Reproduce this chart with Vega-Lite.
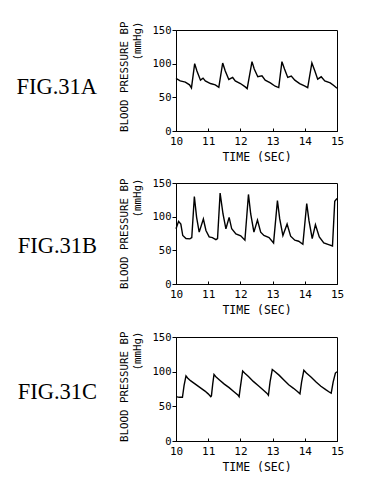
{
  "$schema": "https://vega.github.io/schema/vega-lite/v6.json",
  "background": "white",
  "padding": {"left": 15, "top": 20, "right": 5, "bottom": 5},
  "spacing": 14,
  "datasets": {
    "a": [
      {"t": 10.00, "bp": 78}, {"t": 10.13, "bp": 74.5}, {"t": 10.29, "bp": 72.5}, {"t": 10.42, "bp": 68.5}, {"t": 10.48, "bp": 64},
      {"t": 10.58, "bp": 100}, {"t": 10.65, "bp": 89}, {"t": 10.76, "bp": 75.5}, {"t": 10.84, "bp": 78.5}, {"t": 10.91, "bp": 74.5},
      {"t": 11.07, "bp": 70.5}, {"t": 11.22, "bp": 68.5}, {"t": 11.33, "bp": 65}, {"t": 11.45, "bp": 101}, {"t": 11.53, "bp": 89},
      {"t": 11.64, "bp": 76.5}, {"t": 11.76, "bp": 79.5}, {"t": 11.84, "bp": 74.5}, {"t": 12.00, "bp": 70.5}, {"t": 12.15, "bp": 65.5},
      {"t": 12.21, "bp": 63}, {"t": 12.36, "bp": 103}, {"t": 12.43, "bp": 92}, {"t": 12.54, "bp": 80.5}, {"t": 12.67, "bp": 82},
      {"t": 12.77, "bp": 75.5}, {"t": 12.93, "bp": 71.5}, {"t": 13.08, "bp": 66.5}, {"t": 13.19, "bp": 64.5}, {"t": 13.29, "bp": 103},
      {"t": 13.37, "bp": 92}, {"t": 13.47, "bp": 79.5}, {"t": 13.58, "bp": 81.5}, {"t": 13.69, "bp": 75.5}, {"t": 13.84, "bp": 70.5},
      {"t": 13.99, "bp": 67}, {"t": 14.09, "bp": 64.5}, {"t": 14.22, "bp": 101}, {"t": 14.31, "bp": 89.5}, {"t": 14.40, "bp": 77},
      {"t": 14.51, "bp": 80.5}, {"t": 14.62, "bp": 74.5}, {"t": 14.79, "bp": 71.5}, {"t": 14.90, "bp": 67.5}, {"t": 15.00, "bp": 63.5}
    ],
    "b": [
      {"t": 10.00, "bp": 82}, {"t": 10.08, "bp": 93}, {"t": 10.15, "bp": 89}, {"t": 10.21, "bp": 72}, {"t": 10.31, "bp": 67.5},
      {"t": 10.43, "bp": 67}, {"t": 10.49, "bp": 69}, {"t": 10.57, "bp": 130}, {"t": 10.64, "bp": 99}, {"t": 10.72, "bp": 77},
      {"t": 10.85, "bp": 96.5}, {"t": 10.93, "bp": 79.5}, {"t": 11.03, "bp": 70}, {"t": 11.13, "bp": 69}, {"t": 11.24, "bp": 66},
      {"t": 11.29, "bp": 67.5}, {"t": 11.37, "bp": 135}, {"t": 11.46, "bp": 104}, {"t": 11.55, "bp": 82}, {"t": 11.65, "bp": 99},
      {"t": 11.73, "bp": 82}, {"t": 11.86, "bp": 74.5}, {"t": 12.01, "bp": 71.5}, {"t": 12.14, "bp": 65}, {"t": 12.25, "bp": 133},
      {"t": 12.32, "bp": 104}, {"t": 12.42, "bp": 77}, {"t": 12.53, "bp": 95}, {"t": 12.63, "bp": 77}, {"t": 12.73, "bp": 72},
      {"t": 12.89, "bp": 69}, {"t": 13.03, "bp": 61}, {"t": 13.15, "bp": 124}, {"t": 13.22, "bp": 97}, {"t": 13.32, "bp": 72},
      {"t": 13.45, "bp": 89}, {"t": 13.56, "bp": 71}, {"t": 13.69, "bp": 65}, {"t": 13.81, "bp": 63.5}, {"t": 13.94, "bp": 59},
      {"t": 14.06, "bp": 119.5}, {"t": 14.13, "bp": 94}, {"t": 14.23, "bp": 67.5}, {"t": 14.33, "bp": 88}, {"t": 14.45, "bp": 70},
      {"t": 14.59, "bp": 61}, {"t": 14.74, "bp": 58.5}, {"t": 14.86, "bp": 56.5}, {"t": 14.93, "bp": 123}, {"t": 15.00, "bp": 127}
    ],
    "c": [
      {"t": 10.00, "bp": 64}, {"t": 10.10, "bp": 63}, {"t": 10.20, "bp": 63}, {"t": 10.25, "bp": 80}, {"t": 10.31, "bp": 94},
      {"t": 10.36, "bp": 91}, {"t": 10.45, "bp": 87}, {"t": 10.60, "bp": 82}, {"t": 10.75, "bp": 77}, {"t": 10.90, "bp": 72},
      {"t": 11.00, "bp": 68}, {"t": 11.08, "bp": 64}, {"t": 11.10, "bp": 65}, {"t": 11.14, "bp": 82}, {"t": 11.18, "bp": 96},
      {"t": 11.23, "bp": 93}, {"t": 11.35, "bp": 88}, {"t": 11.50, "bp": 82}, {"t": 11.65, "bp": 77}, {"t": 11.80, "bp": 71},
      {"t": 11.93, "bp": 66}, {"t": 11.96, "bp": 64}, {"t": 12.00, "bp": 78}, {"t": 12.07, "bp": 101}, {"t": 12.13, "bp": 98},
      {"t": 12.25, "bp": 93}, {"t": 12.40, "bp": 86}, {"t": 12.55, "bp": 80}, {"t": 12.70, "bp": 74}, {"t": 12.82, "bp": 69},
      {"t": 12.87, "bp": 66}, {"t": 12.92, "bp": 85}, {"t": 12.99, "bp": 103}, {"t": 13.05, "bp": 101}, {"t": 13.20, "bp": 95},
      {"t": 13.35, "bp": 88}, {"t": 13.50, "bp": 81}, {"t": 13.65, "bp": 76}, {"t": 13.78, "bp": 71}, {"t": 13.85, "bp": 68},
      {"t": 13.90, "bp": 85}, {"t": 13.97, "bp": 102}, {"t": 14.05, "bp": 98}, {"t": 14.20, "bp": 92}, {"t": 14.35, "bp": 85},
      {"t": 14.50, "bp": 79}, {"t": 14.65, "bp": 74}, {"t": 14.78, "bp": 70}, {"t": 14.82, "bp": 69}, {"t": 14.88, "bp": 85},
      {"t": 14.95, "bp": 98}, {"t": 15.00, "bp": 100}
    ]
  },
  "vconcat": [
    {
      "data": {"name": "a"},
      "width": 161, "height": 101,
      "title": {"text": "FIG.31A", "orient": "left", "angle": 0, "align": "left", "baseline": "middle", "font": "Liberation Serif", "fontSize": 22.5, "fontWeight": "normal", "color": "black", "offset": 21, "dy": 6},
      "mark": {"type": "line", "color": "black", "strokeWidth": 1.4},
      "encoding": {
        "x": {"field": "t", "type": "quantitative", "scale": {"domain": [10, 15], "nice": false, "zero": false}, "axis": {"values": [10, 11, 12, 13, 14, 15], "title": "TIME (SEC)"}},
        "y": {"field": "bp", "type": "quantitative", "scale": {"domain": [0, 150]}, "axis": {"values": [0, 50, 100, 150], "title": ["BLOOD PRESSURE BP", "(mmHg)"], "titleY": -9}}
      }
    },
    {
      "data": {"name": "b"},
      "width": 161, "height": 101,
      "title": {"text": "FIG.31B", "orient": "left", "angle": 0, "align": "left", "baseline": "middle", "font": "Liberation Serif", "fontSize": 22.5, "fontWeight": "normal", "color": "black", "offset": 21, "dy": 12},
      "mark": {"type": "line", "color": "black", "strokeWidth": 1.4},
      "encoding": {
        "x": {"field": "t", "type": "quantitative", "scale": {"domain": [10, 15], "nice": false, "zero": false}, "axis": {"values": [10, 11, 12, 13, 14, 15], "title": "TIME (SEC)"}},
        "y": {"field": "bp", "type": "quantitative", "scale": {"domain": [0, 150]}, "axis": {"values": [0, 50, 100, 150], "title": ["BLOOD PRESSURE BP", "(mmHg)"], "titleY": -5}}
      }
    },
    {
      "data": {"name": "c"},
      "width": 161, "height": 104,
      "title": {"text": "FIG.31C", "orient": "left", "angle": 0, "align": "left", "baseline": "middle", "font": "Liberation Serif", "fontSize": 22.5, "fontWeight": "normal", "color": "black", "offset": 21, "dy": 3},
      "mark": {"type": "line", "color": "black", "strokeWidth": 1.4},
      "encoding": {
        "x": {"field": "t", "type": "quantitative", "scale": {"domain": [10, 15], "nice": false, "zero": false}, "axis": {"values": [10, 11, 12, 13, 14, 15], "title": "TIME (SEC)"}},
        "y": {"field": "bp", "type": "quantitative", "scale": {"domain": [0, 150]}, "axis": {"values": [0, 50, 100, 150], "title": ["BLOOD PRESSURE BP", "(mmHg)"], "titleY": -6}}
      }
    }
  ],
  "config": {
    "view": {"stroke": "black", "strokeWidth": 1},
    "axis": {
      "grid": false,
      "domainColor": "black", "tickColor": "black", "labelColor": "black", "titleColor": "black",
      "labelFont": "DejaVu Sans Mono", "titleFont": "DejaVu Sans Mono", "titleFontWeight": "normal"
    },
    "axisX": {"tickSize": -3, "labelPadding": 7, "labelFontSize": 11, "labelFlush": false, "titleFontSize": 11.5, "titlePadding": 5},
    "axisY": {"tickSize": 4, "labelPadding": 1, "labelFontSize": 10.5, "titleFontSize": 10.8, "titlePadding": 10, "titleAlign": "right", "titleAnchor": "end", "titleLineHeight": 13}
  }
}
